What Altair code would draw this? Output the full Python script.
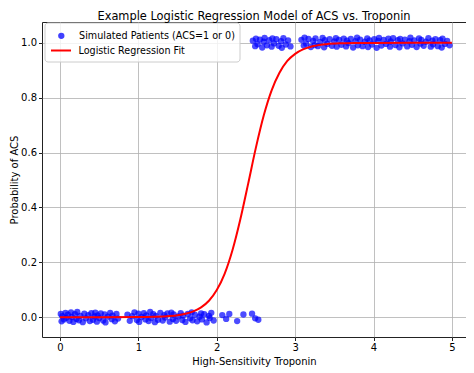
import altair as alt
import pandas as pd

# Simulated patients with ACS = 0 (x = troponin, y = jittered outcome)
zero_points = [
    (0.01, 0.012), (0.02, -0.015), (0.03, 0.004), (0.05, -0.008), (0.07, 0.016), (0.08, -0.002),
    (0.10, 0.009), (0.12, -0.013), (0.14, 0.018), (0.15, 0.001), (0.17, -0.017), (0.19, 0.011),
    (0.21, -0.006), (0.22, 0.019), (0.24, -0.011), (0.26, 0.005), (0.29, -0.018), (0.31, 0.013),
    (0.33, -0.004), (0.36, 0.008), (0.38, -0.014), (0.40, 0.015), (0.42, -0.009), (0.44, 0.003),
    (0.45, 0.017), (0.47, -0.016), (0.48, 0.007), (0.50, -0.003), (0.52, 0.014), (0.55, -0.012),
    (0.57, 0.010), (0.58, -0.019), (0.61, 0.002), (0.64, 0.016), (0.66, -0.007), (0.67, 0.006),
    (0.70, -0.015), (0.72, 0.012), (0.74, -0.005),
    (0.86, 0.009), (0.89, -0.013), (0.92, 0.004), (0.95, 0.018), (0.98, -0.010), (1.00, 0.013),
    (1.01, -0.017), (1.04, 0.001), (1.07, 0.015), (1.09, -0.008), (1.10, 0.007), (1.13, -0.014),
    (1.15, 0.019), (1.16, -0.003), (1.19, 0.011), (1.21, -0.018), (1.22, 0.005), (1.25, -0.009),
    (1.28, 0.016), (1.31, -0.012), (1.33, 0.008), (1.34, -0.001), (1.37, 0.014), (1.40, -0.016),
    (1.42, 0.017), (1.44, -0.006), (1.45, 0.010), (1.48, -0.013), (1.51, 0.003), (1.54, 0.015),
    (1.56, -0.010), (1.57, 0.006), (1.60, -0.017), (1.63, 0.012), (1.66, -0.004), (1.68, 0.018),
    (1.69, -0.011), (1.72, 0.009), (1.75, -0.015), (1.78, 0.002), (1.80, 0.014), (1.81, -0.008),
    (1.84, 0.011), (1.87, -0.019), (1.90, 0.005), (1.91, -0.003), (1.93, 0.016), (1.96, -0.012),
    (2.07, 0.008), (2.12, -0.006), (2.16, 0.012), (2.26, -0.014), (2.34, 0.010), (2.45, 0.013),
    (2.49, -0.004), (2.53, -0.009),
]

# Simulated patients with ACS = 1
one_points = [
    (2.46, 1.008), (2.49, 0.988), (2.50, 1.015), (2.52, 0.995), (2.55, 1.012), (2.58, 0.983),
    (2.60, 1.004), (2.61, 1.018), (2.64, 0.991), (2.67, 1.010), (2.70, 0.986), (2.71, 1.016),
    (2.73, 0.998), (2.76, 1.013), (2.79, 0.989), (2.82, 1.006), (2.83, 0.982), (2.85, 1.017),
    (2.88, 0.994), (2.91, 1.009), (2.94, 0.987),
    (3.08, 1.011), (3.11, 0.990), (3.12, 1.019), (3.14, 0.997), (3.17, 1.014), (3.20, 0.985),
    (3.23, 1.007), (3.25, 0.992), (3.26, 1.016), (3.29, 0.988), (3.32, 1.003), (3.35, 1.018),
    (3.37, 0.984), (3.38, 1.010), (3.41, 0.996), (3.44, 1.013), (3.47, 0.989), (3.50, 1.005),
    (3.52, 1.017), (3.53, 0.986), (3.56, 1.011), (3.59, 0.993), (3.62, 1.015), (3.65, 0.987),
    (3.66, 1.008), (3.68, 0.999), (3.71, 1.014), (3.74, 0.983), (3.77, 1.006), (3.79, 1.019),
    (3.80, 0.991), (3.83, 1.012), (3.86, 0.988), (3.89, 1.004), (3.92, 1.016), (3.93, 0.985),
    (3.95, 1.009), (3.98, 0.994), (4.01, 1.013), (4.04, 0.982), (4.06, 1.007), (4.07, 1.018),
    (4.10, 0.990), (4.13, 1.011), (4.16, 0.996), (4.19, 1.015), (4.21, 0.986), (4.22, 1.005),
    (4.25, 1.017), (4.28, 0.992), (4.31, 1.010), (4.33, 0.984), (4.34, 1.014), (4.37, 0.998),
    (4.40, 1.012), (4.43, 0.987), (4.46, 1.006), (4.47, 1.019), (4.49, 0.993), (4.52, 1.009),
    (4.55, 0.985), (4.58, 1.016), (4.60, 0.997), (4.61, 1.011), (4.64, 0.989), (4.67, 1.004),
    (4.70, 1.017), (4.73, 0.986), (4.75, 1.008), (4.76, 0.995), (4.79, 1.013), (4.82, 0.988),
    (4.85, 1.010), (4.87, 0.983), (4.88, 1.015), (4.91, 0.996), (4.94, 1.007), (4.97, 0.991),
]

# Logistic regression fit curve
curve_x = [0.0, 0.5, 1.0, 1.2, 1.4, 1.5, 1.6, 1.7, 1.8, 1.9, 2.0, 2.1, 2.2, 2.3, 2.4, 2.5,
           2.6, 2.7, 2.8, 2.9, 3.0, 3.1, 3.2, 3.4, 3.6, 3.8, 4.0, 4.5, 5.0]
curve_p = [0.0000, 0.0000, 0.0005, 0.0015, 0.0043, 0.0073, 0.0125, 0.0212, 0.0359, 0.060,
           0.099, 0.158, 0.244, 0.356, 0.486, 0.619, 0.736, 0.827, 0.891, 0.934, 0.960,
           0.976, 0.986, 0.9953, 0.9984, 0.9994, 0.9998, 1.0, 1.0]

x_ticks = [0, 1, 2, 3, 4, 5]
y_ticks = [0.0, 0.2, 0.4, 0.6, 0.8, 1.0]

S_LABEL = "Simulated Patients (ACS=1 or 0)"
L_LABEL = "Logistic Regression Fit"

pts = pd.DataFrame(zero_points + one_points, columns=["x", "y"])
pts["series"] = S_LABEL
fit = pd.DataFrame({"x": curve_x, "y": curve_p})
fit["series"] = L_LABEL

FONT = "DejaVu Sans"

xscale = alt.Scale(domain=[-0.23, 5.18], nice=False, zero=False)
yscale = alt.Scale(domain=[-0.072, 1.076], nice=False, zero=False)

common_legend = dict(
    title=None,
    orient="none",
    padding=0,
    labelFont=FONT,
    labelFontSize=9.6,
    labelColor="black",
    labelLimit=400,
    symbolOffset=0,
)

pt_legend = alt.Legend(
    symbolType="circle", symbolSize=40, symbolOpacity=0.75,
    legendX=14.5, legendY=9, labelOffset=13, **common_legend
)
ln_legend = alt.Legend(
    symbolType="stroke", symbolSize=400, symbolStrokeWidth=2,
    legendX=8, legendY=17.5, labelOffset=6.5, **common_legend
)

xaxis = alt.Axis(values=x_ticks, format="d", title="High-Sensitivity Troponin", titlePadding=4)
yaxis = alt.Axis(values=y_ticks, format=".1f", title="Probability of ACS", titlePadding=1)

points = alt.Chart(pts).mark_circle(size=40, opacity=0.7).encode(
    x=alt.X("x:Q", scale=xscale, axis=xaxis),
    y=alt.Y("y:Q", scale=yscale, axis=yaxis),
    fill=alt.Fill("series:N", scale=alt.Scale(domain=[S_LABEL], range=["blue"]), legend=pt_legend),
)

line = alt.Chart(fit).mark_line(strokeWidth=2, interpolate="monotone").encode(
    x=alt.X("x:Q", scale=xscale),
    y=alt.Y("y:Q", scale=yscale),
    stroke=alt.Stroke("series:N", scale=alt.Scale(domain=[L_LABEL], range=["red"]), legend=ln_legend),
)

# legend frame (decoration only)
legend_frame = alt.Chart(pd.DataFrame({"k": [0]})).mark_rect(
    fill="white", fillOpacity=0.8, stroke="#cccccc", strokeWidth=1, cornerRadius=3
).encode(
    x=alt.value(3), x2=alt.value(198), y=alt.value(1), y2=alt.value(40)
)

chart = (
    alt.layer(points, line, legend_frame)
    .resolve_scale(fill="independent", stroke="independent")
    .properties(
        width=424,
        height=315,
        title=alt.Title("Example Logistic Regression Model of ACS vs. Troponin",
                        font=FONT, fontSize=11.4, fontWeight="normal", color="black", offset=0),
        autosize=alt.AutoSizeParams(type="none"),
        padding={"left": 34, "top": 14, "right": 0, "bottom": 30},
    )
    .configure(background="white")
    .configure_view(stroke="#222222", strokeWidth=1)
    .configure_axis(
        grid=True,
        gridColor="#b0b0b0",
        gridWidth=0.8,
        domain=False,
        ticks=True,
        tickColor="#222222",
        tickSize=3.5,
        labelFont=FONT,
        labelFontSize=10,
        labelColor="black",
        labelPadding=2,
        titleFont=FONT,
        titleFontSize=10,
        titleFontWeight="normal",
        titleColor="black",
    )
)

chart.save("out.html", embed_options={"renderer": "svg", "actions": False})
